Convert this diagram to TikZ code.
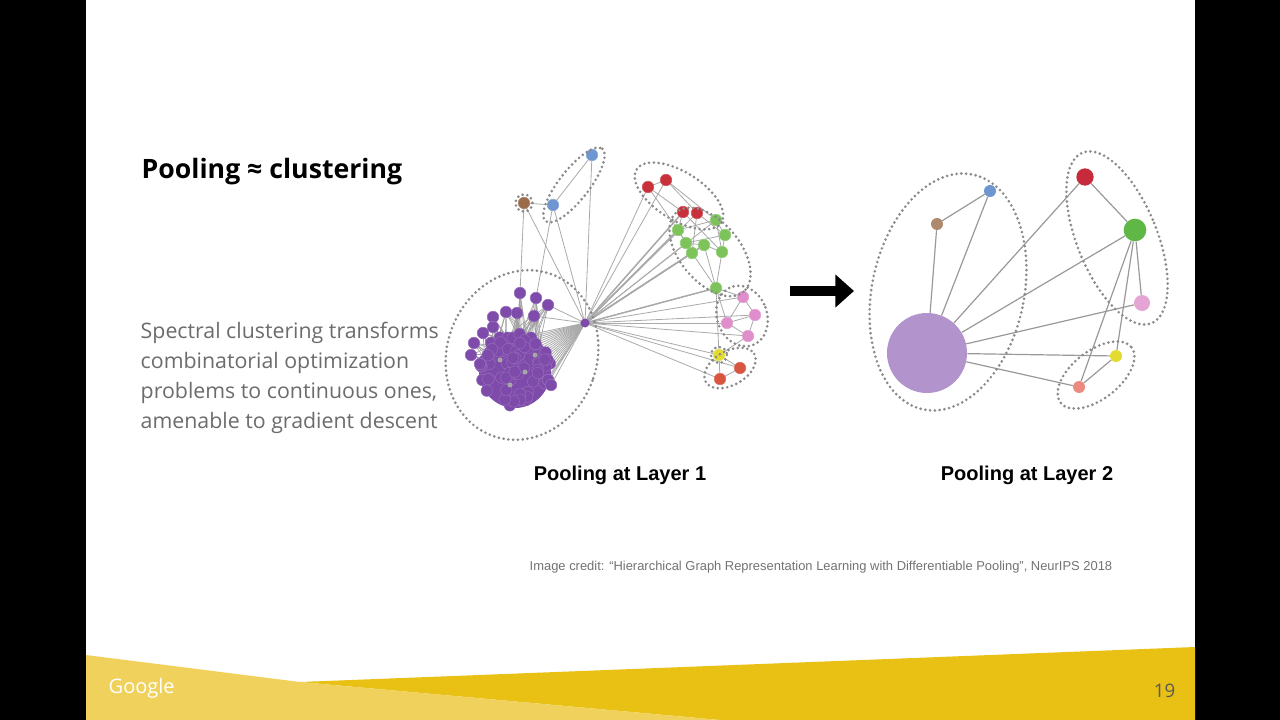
\documentclass[tikz,border=0pt]{standalone}
\usepackage{fontspec}
\setmainfont{Open Sans}
\newfontfamily\arial{Liberation Sans}
\usetikzlibrary{arrows.meta}
\definecolor{pur}{HTML}{7E4BAA}
\definecolor{bl}{HTML}{6F96D0}
\definecolor{br}{HTML}{9B6B4A}
\definecolor{rd}{HTML}{C8303A}
\definecolor{gr}{HTML}{7CC35A}
\definecolor{pk}{HTML}{E08DCB}
\definecolor{yl}{HTML}{E3DC30}
\definecolor{orr}{HTML}{D9553F}
\definecolor{edge}{HTML}{AAAAAA}
\definecolor{dots}{HTML}{8A8A8A}
\definecolor{ylA}{HTML}{EFD15C}
\definecolor{ylB}{HTML}{E9C114}
\tikzset{
 nd/.style={circle,inner sep=0pt,minimum size=#1},
 nd/.default=11pt,
 cl/.style={draw=dots,line width=2.2pt,dash pattern=on 0pt off 3.6pt,line cap=round},
 ed/.style={draw=edge,line width=0.6pt},
 ed2/.style={draw=gray!80,line width=0.9pt},
}
\begin{document}
\begin{tikzpicture}[x=0.75pt,y=-0.75pt]
\useasboundingbox (0,0) rectangle (1280,720);
\fill[black] (0,0) rectangle (86,720);
\fill[black] (1195,0) rectangle (1280,720);
\fill[white] (86,0) rectangle (1195,720);
% footer
\fill[ylB] (300,682) -- (1195,647) -- (1195,720) -- (720,720) -- cycle;
\fill[ylA] (86,655) -- (300,682) -- (720,720) -- (86,720) -- cycle;
\node[anchor=west,text=white,font=\fontsize{15}{15}\selectfont] (g) at (104,688) {Google};
\node[anchor=east,text=gray!70!black,font=\fontsize{14}{14}\selectfont] (pn) at (1180,691) {19};
% texts
\node[anchor=west,font=\bfseries\fontsize{20}{20}\selectfont] (title) at (137,172) {Pooling ≈ clustering};
\node[anchor=north west,align=left,text=gray!85!black,font=\fontsize{16}{22.5}\selectfont] (body) at (136,317)
 {Spectral clustering transforms\\combinatorial optimization\\problems to continuous ones,\\amenable to gradient descent};
\node[font=\arial\bfseries\fontsize{15}{15}\selectfont] (l1) at (620,475) {Pooling at Layer 1};
\node[font=\arial\bfseries\fontsize{15}{15}\selectfont] (l2) at (1027,475) {Pooling at Layer 2};
\node[font=\arial\fontsize{9.7}{10}\selectfont,text=gray!90!black] (cr) at (821,567) {Image credit: “Hierarchical Graph Representation Learning with Differentiable Pooling”, NeurIPS 2018};
% arrow
\coordinate (a1) at (790,291); \coordinate (a2) at (854,291);
\draw[line width=7pt,-{Triangle[length=14pt,width=24pt]}] (a1) -- (a2);

% ---------- Layer 1 ----------
\foreach \n/\x/\y in {b1/592/155,b2/553/205,bw/524/203,
 r1/648/187,r2/666/180,r3/683/212,r4/697/213,
 g1/678/230,g2/686/243,g3/716/220,g4/725/235,g5/704/245,g6/722/252,g7/692/253,g8/716/288,
 p1/743/297,p2/755/315,p3/727/323,p4/748/336,y1/719/355,o1/740/368,o2/720/379,
 h/585/323,
 q1/520/293,q2/536/298,q3/548/305,q4/493/317,q5/506/312,q6/517/313,q7/534/316,
 q8/483/333,q9/474/343,q10/471/355,q11/480/364,q12/493/327,q13/548/380,q14/551/385}
 \coordinate (\n) at (\x,\y);
% edges
\foreach \t in {r1,r2,r3,r4,g1,g2,g3,g5,g7,g8,p1,p2,p3,p4,y1,o1,o2,b1,bw,q3,q7,q13,q14}
 \draw[ed] (h) -- (\t);
\foreach \k in {0,...,18}
 \draw[ed] (h) -- ({505+2*\k},{340+3*\k});
\foreach \a/\b in {r1/r2,r1/r3,r2/r4,r1/g1,r2/g3,r3/g1,r4/g4,g1/g2,g1/g3,g2/g5,g3/g4,g4/g6,g5/g6,g5/g7,g7/g1,g6/g8,g7/g8,g5/g8,g2/g4,g3/g6,r3/g6,r4/g7,
 g8/p1,g8/p3,p1/p2,p2/p4,p3/p4,p1/p3,p3/p2,g8/y1,y1/o1,y1/o2,o1/o2,p4/y1,bw/b2,b2/b1}
 \draw[ed] (\a) -- (\b);
\draw[ed] (bw) -- (q1); \draw[ed] (b2) -- (q2);\draw[ed] (b2) -- (h);
\foreach \t in {g1,g5,g7,g8,r3}
 \draw[ed,line width=1.1pt] (h) -- (\t);
% purple blob
\pgfmathsetseed{7}
\foreach \i in {1,...,90}{
 \pgfmathsetmacro\rr{sqrt(rnd)}
 \pgfmathsetmacro\aa{360*rnd}
 \pgfmathtruncatemacro\j{mod(\i,14)+1}
 \draw[edge!80!gray,line width=0.5pt] ({515+32*\rr*cos(\aa)},{368+38*\rr*sin(\aa)}) -- (q\j);
}
\fill[pur] (515,370) ellipse (36 and 38);
\pgfmathsetseed{3}
\foreach \i in {1,...,70}{
 \pgfmathsetmacro\rr{sqrt(rnd)}
 \pgfmathsetmacro\aa{360*rnd}
 \fill[pur,draw=pur!80!white,line width=0.3pt] ({515+36*\rr*cos(\aa)},{370+38*\rr*sin(\aa)}) circle (5.8);
}
\foreach \x/\y in {500/360,525/372,510/385,535/355}
 \fill[gray!70] (\x,\y) circle (2.5);
\foreach \n/\c in {b1/bl,b2/bl,bw/br,r1/rd,r2/rd,r3/rd,r4/rd,g1/gr,g2/gr,g3/gr,g4/gr,g5/gr,g6/gr,g7/gr,g8/gr,p1/pk,p2/pk,p3/pk,p4/pk,y1/yl,o1/orr,o2/orr,
 q1/pur,q2/pur,q3/pur,q4/pur,q5/pur,q6/pur,q7/pur,q8/pur,q9/pur,q10/pur,q11/pur,q12/pur,q13/pur,q14/pur}
 \fill[\c,draw=\c!80!white,line width=0.4pt] (\n) circle (5.8);
\fill[pur] (h) circle (4.5);
% clusters
\draw[cl,rotate around={-20:(522,355)}] (522,355) ellipse (75 and 86);
\draw[cl,rotate around={52:(574,185)}] (574,185) ellipse (46 and 15);
\draw[cl] (524,203) circle (8.5);
\draw[cl,rotate around={-32:(679,196)}] (679,196) ellipse (50 and 24);
\draw[cl,rotate around={-50:(710,252)}] (710,252) ellipse (52 and 30);
\draw[cl,rotate around={20:(742,316)}] (742,316) ellipse (25 and 31);
\draw[cl,rotate around={30:(730,368)}] (730,368) ellipse (28 and 17);
\draw[cl] (719,355) circle (8);

% ---------- Layer 2 ----------
\node[nd=60pt,fill=pur!60!white] (P) at (927,353) {};
\node[nd=9pt,fill=br!80!white] (Bw) at (937,224) {};
\node[nd=9pt,fill=bl] (Bl) at (990,191) {};
\node[nd=13pt,fill=rd!90!purple] (R) at (1085,177) {};
\node[nd=17pt,fill=gr!85!green!90!black] (G) at (1135,230) {};
\node[nd=12pt,fill=pk!80!white] (Pk) at (1142,303) {};
\node[nd=9pt,fill=yl] (Y) at (1116,356) {};
\node[nd=9pt,fill=orr!50!pink] (O) at (1079,387) {};
\foreach \a/\b in {Bw/Bl,Bw/P,Bl/P,R/P,R/G,G/P,G/Pk,G/Y,G/O,Pk/P,Y/P,O/P,Y/O}
 \draw[ed2] (\a) -- (\b);
\draw[cl,rotate around={-12:(948,292)}] (948,292) ellipse (76 and 120);
\draw[cl,rotate around={22:(1117,238)}] (1117,238) ellipse (40 and 92);
\draw[cl,rotate around={38:(1096,375)}] (1096,375) ellipse (45 and 24);
\end{tikzpicture}
\end{document}
